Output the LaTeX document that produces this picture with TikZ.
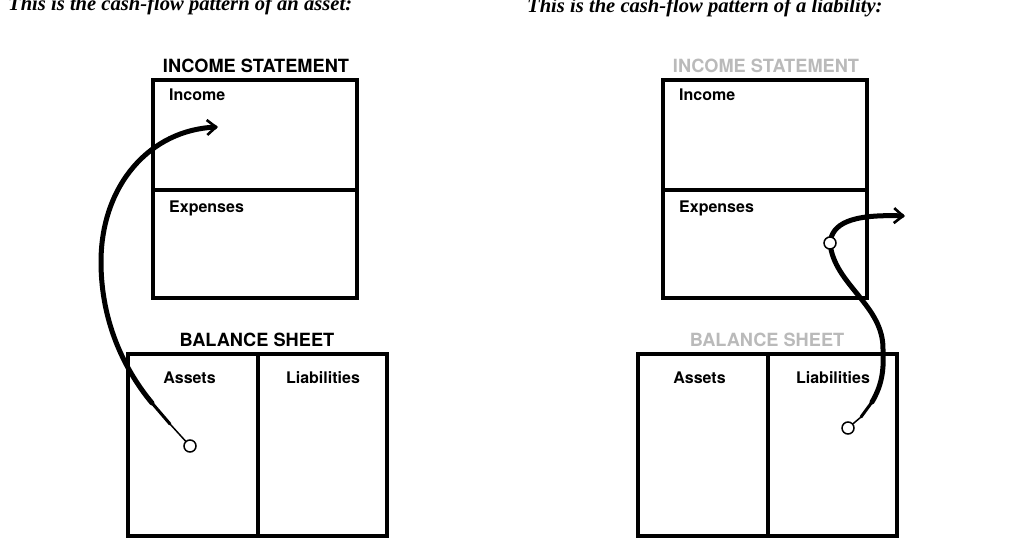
\documentclass[tikz,border=0pt]{standalone}
\usepackage{fontspec}
\setmainfont{Liberation Serif}
\setsansfont{TeX Gyre Heros}
\usetikzlibrary{arrows.meta}

\begin{document}
\begin{tikzpicture}[x=1pt, y=-1pt,
    box/.style={draw, line width=3.2pt, inner sep=0pt},
    head/.style={font=\sffamily\bfseries\fontsize{18.2}{20}\selectfont, anchor=base, inner sep=0pt},
    part/.style={font=\sffamily\bfseries\fontsize{16}{18}\selectfont, anchor=base, inner sep=0pt},
    lead/.style={font=\rmfamily\bfseries\itshape\fontsize{20.6}{22}\selectfont, anchor=base west, inner sep=0pt},
    dot/.style={circle, draw, line width=1.5pt, fill=white, minimum size=12pt, inner sep=0pt},
    flow/.style={line width=5pt, line cap=round},
    tip/.style={-{Straight Barb[length=9pt, width=15pt, line width=2.6pt]}}]
  \useasboundingbox (0,0) rectangle (1024,538);

  \node[lead] (leada) at (8,10) {This is the cash-flow pattern of an asset:};
  \node[lead] (leadl) at (527,12.5) {This is the cash-flow pattern of a liability:};

  % the two sets of statements
  \foreach \ox/\nm/\col in {0/a/black, 510/l/black!27}{
    \node[box, minimum width=204pt, minimum height=110pt] (inc\nm) at (255+\ox,135) {};
    \node[box, minimum width=204pt, minimum height=108pt] (exp\nm) at (255+\ox,244) {};
    \node[box, minimum width=130pt, minimum height=182pt] (ast\nm) at (193+\ox,445) {};
    \node[box, minimum width=129pt, minimum height=182pt] (lia\nm) at (322.5+\ox,445) {};
    \node[head, text=\col] (is\nm) at (256+\ox,72) {INCOME STATEMENT};
    \node[head, text=\col] (bs\nm) at (257+\ox,346) {BALANCE SHEET};
    \node[part, anchor=base west] (ti\nm) at (169+\ox,100) {Income};
    \node[part, anchor=base west] (te\nm) at (169+\ox,212) {Expenses};
    \node[part] (ta\nm) at (189.5+\ox,383) {Assets};
    \node[part] (tl\nm) at (323+\ox,383) {Liabilities};
  }

  % asset: balance sheet to income
  \node[dot] (adot) at (190,446) {};
  \coordinate (at1) at (170,424);
  \coordinate (at2) at (152,403);
  \coordinate (atip) at (218,127);
  \draw[line width=1.5pt, line cap=round] (adot) -- (at1);
  \draw[line width=3pt, line cap=round] (at1) -- (at2);
  \draw[flow, tip] (at2) .. controls (127,373) and (101,325) .. (101,262)
    .. controls (101,185) and (150,130) .. (atip);

  % liability: balance sheet to expenses and out
  \node[dot] (ldot) at (848,428) {};
  \coordinate (lt1) at (861,417);
  \coordinate (lt2) at (872,402);
  \coordinate (lturn) at (830,243);
  \coordinate (ltip) at (905,216);
  \draw[line width=1.5pt, line cap=round] (ldot) -- (lt1);
  \draw[line width=3pt, line cap=round] (lt1) -- (lt2);
  \draw[flow, tip] (lt2) .. controls (882,385) and (884,370) .. (883,350)
    .. controls (884,305) and (834,285) .. (lturn)
    .. controls (832,224) and (850,214) .. (ltip);
  \node[dot] (lmid) at (lturn) {};
\end{tikzpicture}
\end{document}
